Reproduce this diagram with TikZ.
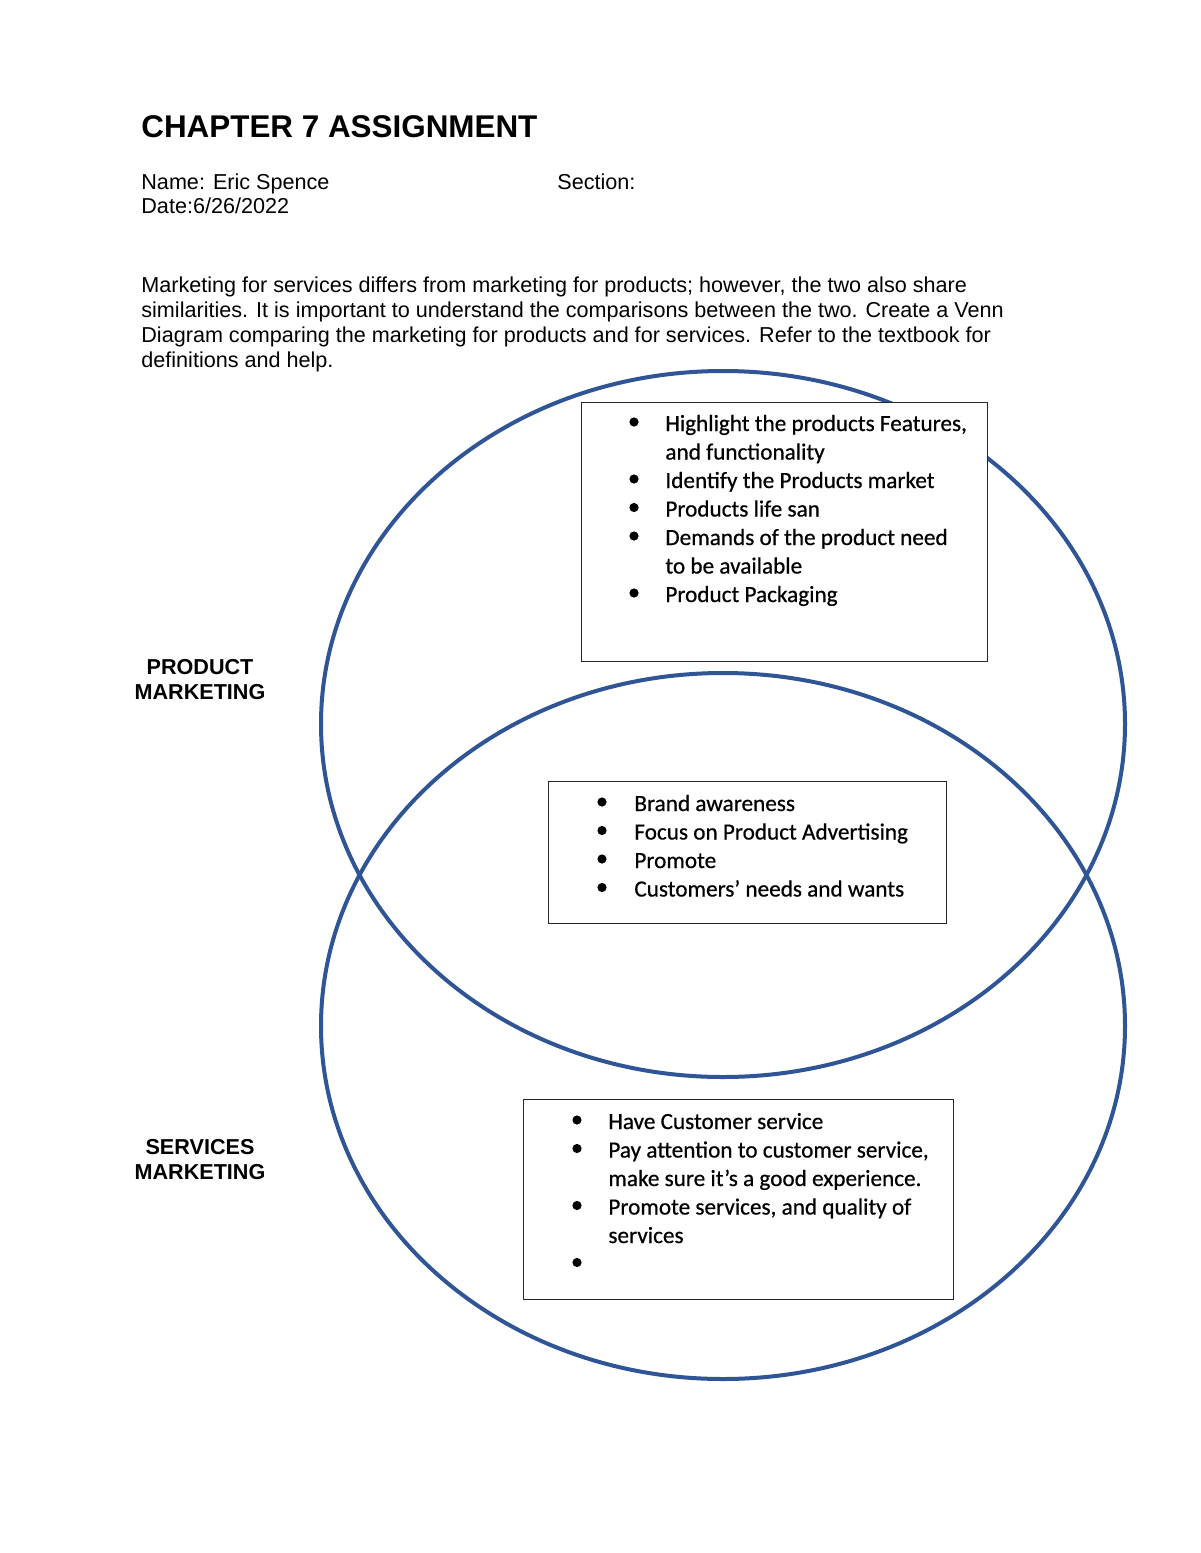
\documentclass[tikz,border=0pt]{standalone}
\usepackage{fontspec}
\setmainfont{Liberation Sans}
\newfontfamily\calfont[FakeBold=0.6]{Carlito}
\usetikzlibrary{shapes.geometric}
\definecolor{vennblue}{HTML}{2F5597}
\begin{document}
\begin{tikzpicture}[x=0.5pt,y=-0.5pt,
  venn/.style={ellipse, draw=vennblue, line width=2pt, inner sep=0pt, minimum width=402pt, minimum height=353pt},
  tbox/.style={rectangle, draw=black!85, line width=0.7pt, fill=white, anchor=north west, inner sep=0pt},
  hdr/.style={font=\fontsize{10.8}{12.5}\selectfont, anchor=base west, inner sep=0pt},
  ttl/.style={font=\fontsize{15.7}{18}\bfseries\selectfont, anchor=base west, inner sep=0pt},
  side/.style={font=\fontsize{10.8}{12.5}\bfseries\selectfont, anchor=base, inner sep=0pt},
  item/.style={font=\calfont\fontsize{11.6}{13}\selectfont, anchor=base west, inner sep=0pt},
  dot/.style={circle, fill=black, inner sep=0pt, minimum size=4.6pt}
]
\useasboundingbox (0,0) rectangle (1200,1553);
\fill[white] (0,0) rectangle (1200,1553);

% header
\node[ttl] (title) at (141,137) {CHAPTER 7 ASSIGNMENT};
\node[hdr] (name) at (141,189) {Name: Eric Spence};
\node[hdr] (section) at (557,189) {Section:};
\node[hdr] (date) at (141,213) {Date:6/26/2022};
\node[hdr] (p1) at (141,292) {Marketing for services differs from marketing for products; however, the two also share};
\node[hdr] (p2) at (141,317) {similarities. It is important to understand the comparisons between the two. Create a Venn};
\node[hdr] (p3) at (141,342) {Diagram comparing the marketing for products and for services. Refer to the textbook for};
\node[hdr] (p4) at (141,367) {definitions and help.};

% side labels
\node[side] (pm1) at (200,674) {PRODUCT};
\node[side] (pm2) at (200,699) {MARKETING};
\node[side] (sm1) at (200,1154) {SERVICES};
\node[side] (sm2) at (200,1179) {MARKETING};

% venn circles
\node[venn] (top) at (723,724) {};
\node[venn] (bottom) at (723,1026) {};

% boxes
\node[tbox, minimum width=203pt, minimum height=129.5pt] (boxA) at (581,402) {};
\node[tbox, minimum width=199pt, minimum height=71pt] (boxB) at (548,781) {};
\node[tbox, minimum width=215pt, minimum height=100pt] (boxC) at (523,1099) {};

% box A items
\node[dot] (a1) at (634,422) {};
\node[item] (ta1) at (665,431) {Highlight the products Features,};
\node[item] (ta2) at (665,459.5) {and functionality};
\node[dot] (a2) at (634,479) {};
\node[item] (ta3) at (665,488) {Identify the Products market};
\node[dot] (a3) at (634,507.5) {};
\node[item] (ta4) at (665,516.5) {Products life san};
\node[dot] (a4) at (634,536) {};
\node[item] (ta5) at (665,545) {Demands of the product need};
\node[item] (ta6) at (665,573.5) {to be available};
\node[dot] (a5) at (634,593) {};
\node[item] (ta7) at (665,602) {Product Packaging};

% box B items
\node[dot] (b1) at (602,802) {};
\node[item] (tb1) at (634,811) {Brand awareness};
\node[dot] (b2) at (602,830.5) {};
\node[item] (tb2) at (634,839.5) {Focus on Product Advertising};
\node[dot] (b3) at (602,859) {};
\node[item] (tb3) at (634,868) {Promote};
\node[dot] (b4) at (602,887.5) {};
\node[item] (tb4) at (634,896.5) {Customers’ needs and wants};

% box C items
\node[dot] (c1) at (577,1120) {};
\node[item] (tc1) at (608,1129) {Have Customer service};
\node[dot] (c2) at (577,1148.5) {};
\node[item] (tc2) at (608,1157.5) {Pay attention to customer service,};
\node[item] (tc3) at (608,1186) {make sure it’s a good experience.};
\node[dot] (c3) at (577,1205.5) {};
\node[item] (tc4) at (608,1214.5) {Promote services, and quality of};
\node[item] (tc5) at (608,1243) {services};
\node[dot] (c4) at (577,1262.5) {};
\end{tikzpicture}
\end{document}
